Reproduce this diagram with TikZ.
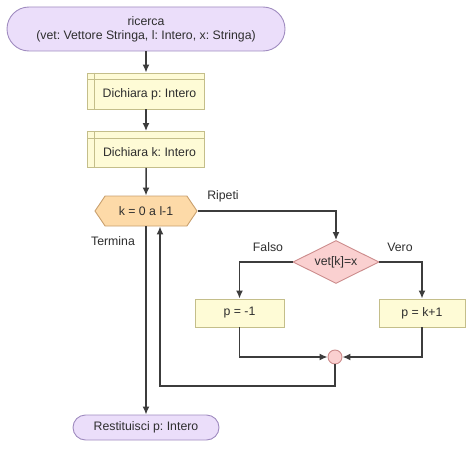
\documentclass[tikz,border=0pt]{standalone}
\usepackage{fontspec}
\setmainfont{Liberation Sans}
\usetikzlibrary{arrows.meta, shapes.geometric, shapes.symbols}
\frenchspacing

\definecolor{lineGray}{HTML}{3C3C3C}
\definecolor{textGray}{HTML}{2E2E2E}
\definecolor{termFill}{HTML}{EBDEFA}
\definecolor{termBorder}{HTML}{A08CC0}
\definecolor{boxFill}{HTML}{FEFBD6}
\definecolor{boxBorder}{HTML}{C4BE8A}
\definecolor{loopFill}{HTML}{FDDAA8}
\definecolor{loopBorder}{HTML}{C9A06E}
\definecolor{condFill}{HTML}{FAD0D0}
\definecolor{condBorder}{HTML}{CC8C8C}

\begin{document}
\begin{tikzpicture}[
    x = 1pt, y = -1pt,
    > = {Latex[length=8pt, width=7pt]},
    font = \fontsize{12.3}{14}\selectfont,
    text = textGray,
    flow/.style = {draw=lineGray, line width=1.5pt},
    terminal/.style = {rectangle, draw=termBorder, fill=termFill, line width=0.9pt, align=center, inner sep=0pt},
    declbox/.style = {rectangle, draw=boxBorder, fill=boxFill, line width=0.9pt, minimum width=117pt, minimum height=36pt, inner sep=0pt, text height=16pt, text depth=3pt},
    declline/.style = {draw=boxBorder, line width=0.9pt},
    actbox/.style = {rectangle, draw=boxBorder, fill=boxFill, line width=0.9pt, minimum height=28pt, inner sep=0pt},
    loopbox/.style = {signal, signal to=west and east, signal pointer angle=112, draw=loopBorder, fill=loopFill, line width=0.9pt, minimum width=102pt, minimum height=30pt, inner sep=0pt},
    condbox/.style = {diamond, aspect=2, draw=condBorder, fill=condFill, line width=0.9pt, minimum width=86pt, minimum height=43pt, inner sep=1pt},
    joint/.style = {circle, draw=condBorder, fill=condFill, line width=0.9pt, minimum size=14pt, inner sep=0pt},
    lbl/.style = {inner sep=1pt}
]

    \useasboundingbox (0, 0) rectangle (474, 452);

    \def\declLines#1{
        \draw [declline] ([yshift=-7pt]#1.north west) -- ([yshift=-7pt]#1.north east);
        \draw [declline] ([xshift=7pt]#1.north west) -- ([xshift=7pt]#1.south west);
    }

    % Header
    \node [terminal, minimum width=278pt, minimum height=44pt, rounded corners=22pt]
        (start) at (146, 29) {ricerca\\(vet: Vettore Stringa, l: Intero, x: Stringa)};

    % Declarations
    \node [declbox] (declP) at (146, 91) {\hspace*{7pt}Dichiara p: Intero};
    \declLines{declP}
    \node [declbox] (declK) at (146, 149.5) {\hspace*{7pt}Dichiara k: Intero};
    \declLines{declK}

    % Loop
    \node [loopbox] (loop) at (146, 211) {k = 0 a l-1};

    % Body of the loop
    \node [condbox] (cond) at (336, 262) {vet[k]=x};
    \node [actbox, minimum width=89pt] (setNeg) at (239.5, 313) {p = -1};
    \node [actbox, minimum width=86pt] (setPos) at (422, 313) {p = k+1};
    \node [joint] (merge) at (335, 357) {};
    \coordinate (back) at (160, 386);

    % Result
    \node [terminal, minimum width=146pt, minimum height=25pt, rounded corners=12.5pt]
        (result) at (146, 427.5) {Restituisci p: Intero};

    % Labels
    \node [lbl] (ripeti) at (223, 196) {Ripeti};
    \node [lbl] (termina) at (113, 241) {Termina};
    \node [lbl] (falso) at (268, 247) {Falso};
    \node [lbl] (vero) at (400, 247) {Vero};

    % Connectors
    \draw [flow, ->] (start) -- (declP);
    \draw [flow, ->] (declP) -- (declK);
    \draw [flow, ->] (declK) -- (loop);
    \draw [flow, ->] (loop.east) -| (cond.north);
    \draw [flow, ->] (cond.west) -| (setNeg.north);
    \draw [flow, ->] (cond.east) -| (setPos.north);
    \draw [flow, ->] (setNeg.south) |- (merge.west);
    \draw [flow, ->] (setPos.south) |- (merge.east);
    \draw [flow, ->] (merge.south) |- (back) -- (back |- loop.south);
    \draw [flow, ->] (loop.south) -- (result.north);
\end{tikzpicture}
\end{document}
